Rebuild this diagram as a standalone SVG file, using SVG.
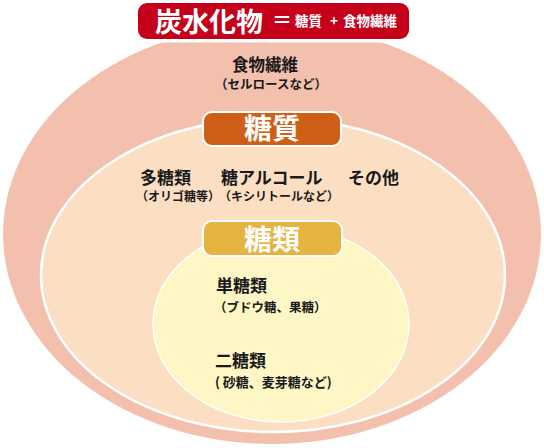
<svg xmlns="http://www.w3.org/2000/svg" width="544" height="448" viewBox="0 0 544 448">
<style>
.t{font-family:"Noto Sans CJK JP","Noto Sans",sans-serif;font-weight:bold;fill:#1a1a1a}
.h{font-size:17px}
.s{font-size:12px}
.w{font-family:"Noto Sans CJK JP","Noto Sans",sans-serif;font-weight:bold;fill:#ffffff}
</style>
<rect width="544" height="448" fill="#ffffff"/>
<g id="carbohydrate">
<ellipse cx="272" cy="234" rx="269" ry="210" fill="#f3c0ae"/>
<text class="t" x="265" y="71" text-anchor="middle" font-size="16.5">食物繊維</text>
<text class="t" x="271" y="89" text-anchor="middle" font-size="12.5">（セルロースなど）</text>
</g>
<g id="sugar">
<ellipse cx="273" cy="275" rx="232" ry="157" fill="#fcdfc2" stroke="#ffffff" stroke-width="2.5"/>
<text class="t h" x="140" y="184">多糖類</text>
<text class="t s" x="136" y="201">（オリゴ糖等）</text>
<text class="t h" x="221" y="184">糖アルコール</text>
<text class="t s" x="219" y="201" font-size="11.8">（キシリトールなど）</text>
<text class="t h" x="348" y="184">その他</text>
</g>
<g id="saccharide">
<ellipse cx="281" cy="324" rx="128" ry="98" fill="#fff6c6" stroke="#ffffff" stroke-width="1.5"/>
<text class="t h" x="216" y="292">単糖類</text>
<text class="t" x="214" y="312" font-size="12.5">（ブドウ糖、果糖）</text>
<text class="t h" x="215" y="367">二糖類</text>
<text class="t" x="215" y="387" font-size="13">( 砂糖、麦芽糖など)</text>
</g>
<g id="title">
<rect x="138" y="3" width="271" height="36" rx="9" fill="#c5001a" stroke="#ffffff" stroke-width="7"/>
<rect x="138" y="3" width="271" height="36" rx="9" fill="#c5001a"/>
<text class="w" x="155" y="32" font-size="27">炭水化物</text>
<text class="w" font-size="13.5" y="26"><tspan x="272" y="28" font-size="20">＝</tspan><tspan x="295" y="26">糖質</tspan><tspan x="327" y="26"> + </tspan><tspan x="343" y="26">食物繊維</tspan></text>
</g>
<g id="sugar-label">
<rect x="203" y="112" width="138" height="34" rx="9" fill="#cf5f16" stroke="#ffffff" stroke-width="2"/>
<text class="w" x="272" y="139" font-size="28" text-anchor="middle">糖質</text>
</g>
<g id="saccharide-label">
<rect x="203" y="221" width="139" height="35" rx="9" fill="#e5b33f" stroke="#ffffff" stroke-width="2"/>
<text class="w" x="272" y="250" font-size="28" text-anchor="middle">糖類</text>
</g>
</svg>
